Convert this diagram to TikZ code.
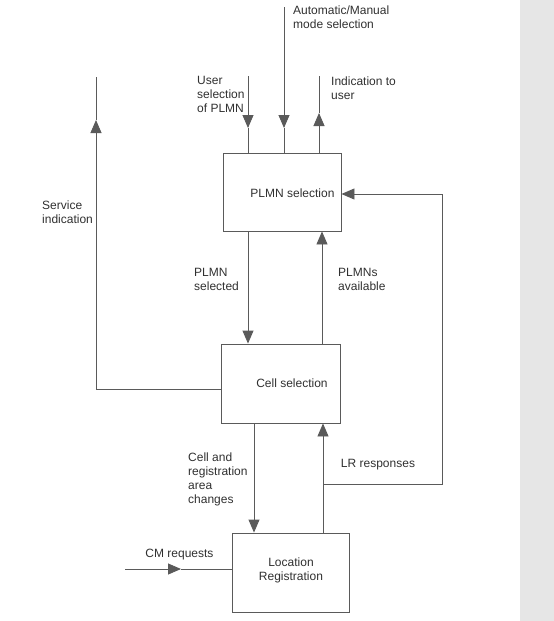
\documentclass[tikz,border=0pt]{standalone}
\usepackage{fontspec}
\setmainfont{Liberation Sans}
\usetikzlibrary{arrows.meta}
\definecolor{ln}{HTML}{5A5A5A}
\definecolor{tx}{HTML}{303030}
\definecolor{band}{HTML}{E6E6E6}
\begin{document}
\begin{tikzpicture}[x=1pt,y=-1pt,
  box/.style={draw=ln,line width=0.9pt,minimum width=#1,inner sep=0pt},
  lbl/.style={text=tx,font=\fontsize{12}{14}\selectfont,inner sep=0pt,align=left,anchor=west},
  clbl/.style={text=tx,font=\fontsize{12}{14}\selectfont,inner sep=0pt,align=center},
  wire/.style={draw=ln,line width=0.9pt},
  arr/.style={wire,-{Triangle[length=13pt,width=11pt]}}]
\useasboundingbox (0,0) rectangle (554,621);
\fill[band] (520,0) rectangle (554,621);
% boxes
\node[box=118pt,minimum height=78pt] (plmn) at (282,192) {};
\node[box=119pt,minimum height=79pt] (cell) at (280.5,383.5) {};
\node[box=117pt,minimum height=79pt] (lr) at (290.5,572.5) {};
\node[clbl] (plmnt) at (292.5,193) {PLMN selection};
\node[clbl] (cellt) at (292,383) {Cell selection};
\node[clbl] (lrt) at (291,570) {Location\\Registration};
% coordinates
\coordinate (us0) at (248,76);
\coordinate (us1) at (248,128);
\coordinate (am0) at (284,7);
\coordinate (am1) at (284,128);
\coordinate (iu0) at (319,76);
\coordinate (iu1) at (319,113);
\coordinate (sv0) at (96,77);
\coordinate (sv1) at (96,120);
\coordinate (sv2) at (96,389);
\coordinate (lrj) at (323,484);
\coordinate (rc1) at (442,484);
\coordinate (rc2) at (442,194);
\coordinate (cm0) at (125,569);
\coordinate (cm1) at (181,569);
% inputs at top
\draw[arr] (us0) -- (us1);
\draw[wire] (us1) -- (us1 |- plmn.north);
\draw[arr] (am0) -- (am1);
\draw[wire] (am1) -- (am1 |- plmn.north);
\draw[arr] (iu1 |- plmn.north) -- (iu1);
\draw[wire] (iu1) -- (iu0);
% service indication
\draw[wire] (cell.west |- sv2) -- (sv2);
\draw[arr] (sv2) -- (sv1);
\draw[wire] (sv1) -- (sv0);
% between PLMN and cell
\draw[arr] (248,0 |- plmn.south) -- (248,0 |- cell.north);
\draw[arr] (322,0 |- cell.north) -- (322,0 |- plmn.south);
% between cell and LR
\draw[arr] (254,0 |- cell.south) -- (254,0 |- lr.north);
\draw[arr] (lrj |- lr.north) -- (lrj |- cell.south);
\draw[arr] (lrj) -- (rc1) -- (rc2) -- (plmn.east |- rc2);
% CM requests
\draw[arr] (cm0) -- (cm1);
\draw[wire] (cm1) -- (lr.west |- cm1);
% labels
\node[lbl] (l1) at (293,17) {Automatic/Manual\\mode selection};
\node[lbl] (l2) at (197,94) {User\\selection\\of PLMN};
\node[lbl] (l3) at (331,88) {Indication to\\user};
\node[lbl] (l4) at (42,212) {Service\\indication};
\node[lbl] (l5) at (194,279) {PLMN\\selected};
\node[lbl] (l6) at (338,279) {PLMNs\\available};
\node[lbl] (l7) at (188,479) {Cell and\\registration\\area\\changes};
\node[clbl] (l8) at (378,465) {LR responses};
\node[clbl] (l9) at (179.5,555) {CM requests};
\end{tikzpicture}
\end{document}
